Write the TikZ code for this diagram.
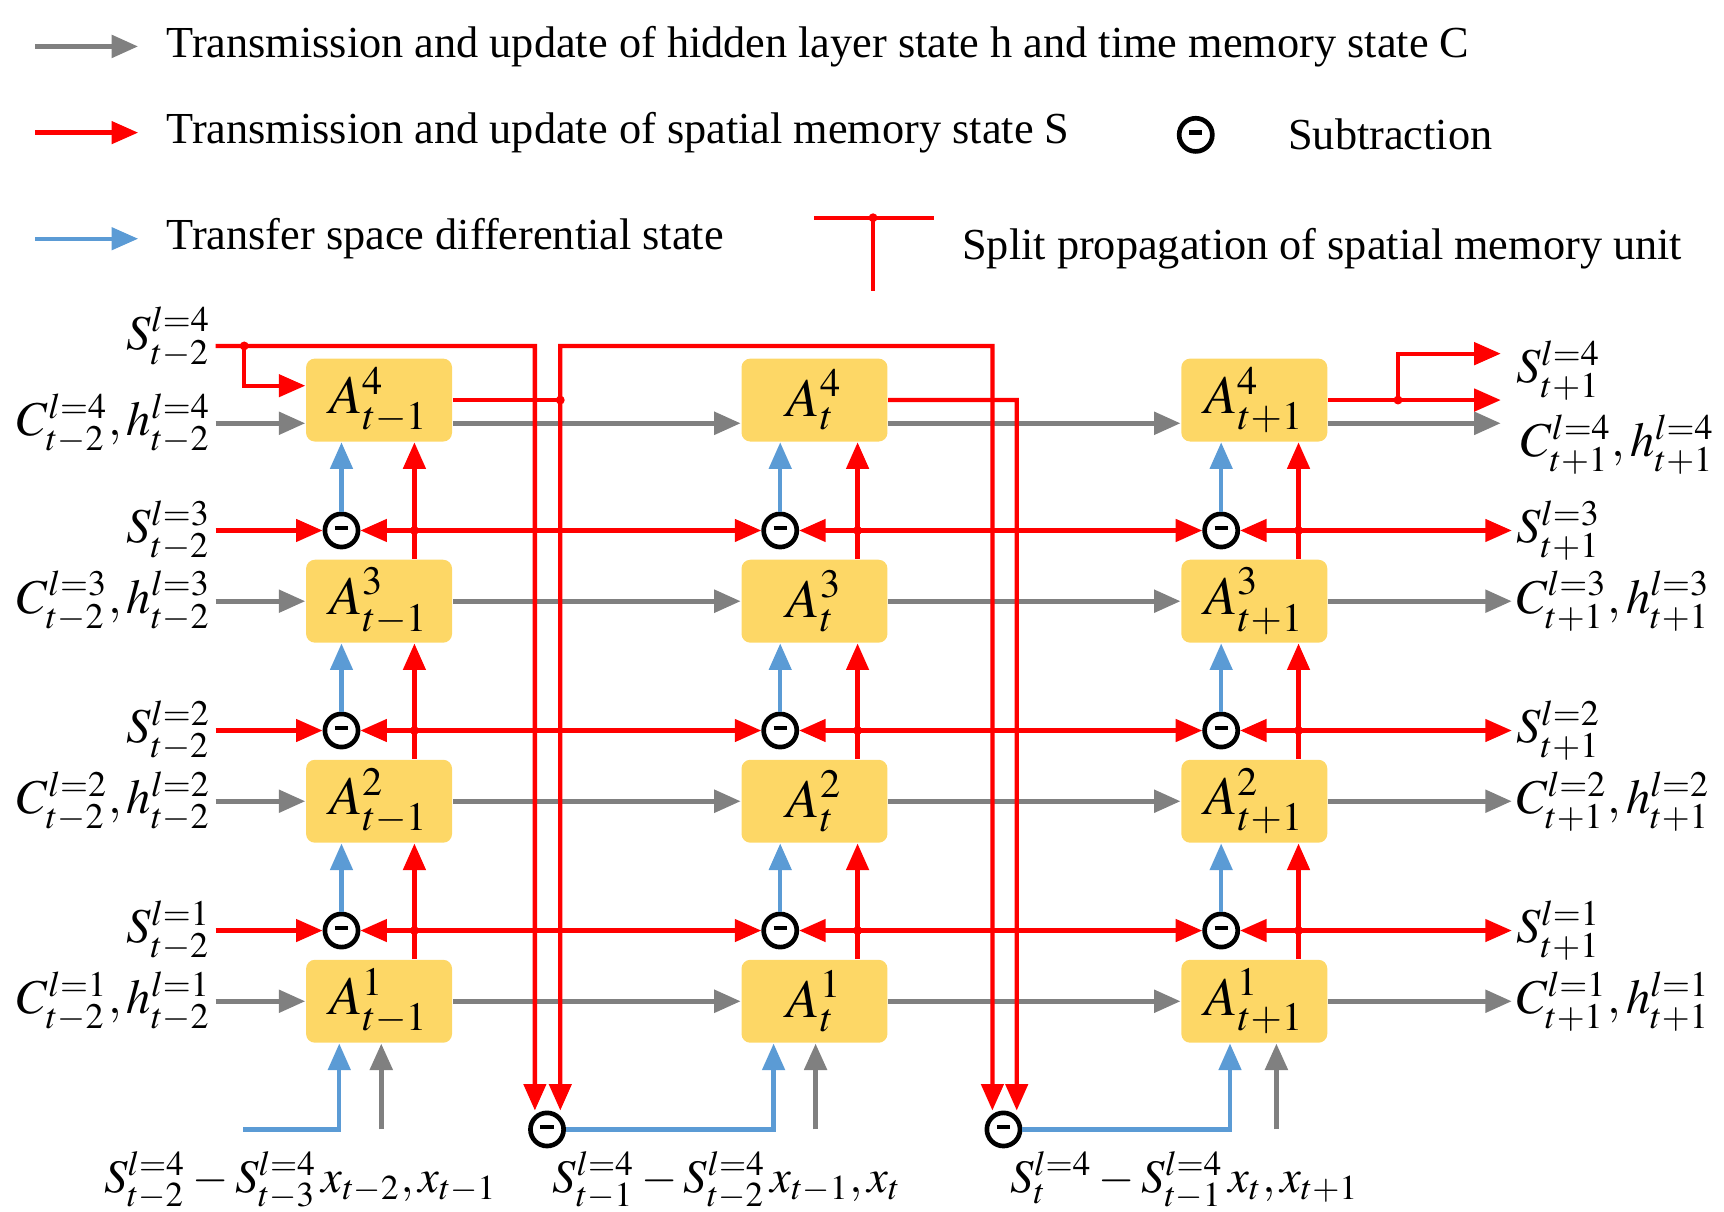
\documentclass[tikz,border=0pt]{standalone}
\usepackage{mathptmx}
\usepackage{fontspec}
\setmainfont{Liberation Serif}
\usepackage{tikz}
\usetikzlibrary{arrows.meta,positioning,calc}
\definecolor{cellfill}{RGB}{253,215,102}
\definecolor{redline}{RGB}{255,0,0}
\definecolor{grayline}{RGB}{128,128,128}
\definecolor{blueline}{RGB}{91,155,213}
\tikzset{
	cell/.style = {fill=cellfill, rounded corners=0.08cm, minimum width=1.32cm, minimum height=0.75cm, inner sep=0pt, font=\fontsize{14}{16}\selectfont},
	minus/.style = {circle, draw=black, line width=1.2pt, fill=white, minimum size=0.3cm, inner sep=0pt},
	lab/.style = {inner sep=1pt, font=\fontsize{12.5}{15}\selectfont},
	legend/.style = {anchor=west, inner sep=0pt, font=\fontsize{11.4}{14}\selectfont},
	tip/.style = {-{Triangle[length=0.24cm,width=0.2cm]}},
	gray arr/.style = {draw=grayline, line width=1.3pt, tip, grayline},
	red arr/.style = {draw=redline, line width=1.1pt, tip, redline},
	blue arr/.style = {draw=blueline, line width=1.1pt, tip, blueline},
	red line/.style = {draw=redline, line width=1.1pt},
	dot/.style = {circle, fill=redline, minimum size=0.08cm, inner sep=0pt}
}
\newcommand{\minusbar}{\rule[0.045cm]{0.12cm}{0.04cm}}
\begin{document}
\begin{tikzpicture}[x=0.01cm, y=-0.01cm]
		\useasboundingbox (0,0) rectangle (1560,1096);
		
		% Legend
		\draw[gray arr] (32,42) -- (125,42);
		\node[legend] at (150,42) {Transmission and update of hidden layer state h and time memory state C};
		\draw[red arr] (32,120) -- (125,120);
		\node[legend] at (150,120) {Transmission and update of spatial memory state S};
		\node[minus] (lm) at (1082,122) {\minusbar};
		\node[legend] at (1165,122) {Subtraction};
		\draw[blue arr] (32,216) -- (125,216);
		\node[legend] at (150,216) {Transfer space differential state};
		\draw[red line] (737,197) -- (845,197);
		\draw[red line] (790,197) -- (790,263);
		\node[dot] at (790,197) {};
		\node[legend] at (870,225) {Split propagation of spatial memory unit};
		
		% Cells
		\foreach \c/\x/\t in {1/343/{t-1},2/737/t,3/1135/{t+1}}
		\foreach \l/\y in {1/906,2/725,3/544,4/362}
		\node[cell] (A\c\l) at (\x,\y) {$A^{\l}_{\t}$};
		
		% Subtraction units between layers
		\foreach \c/\x in {1/309,2/706,3/1105}
		\foreach \l/\y in {1/842,2/661,3/480}
		\node[minus] (m\c\l) at (\x,\y) {\minusbar};
		\foreach \c/\x in {1/375,2/776,3/1175}
		\coordinate (r\c) at (\x,0);
		
		% Side labels
		\foreach \l/\y/\z in {1/842/906,2/661/725,3/480/544} {
			\node[lab, anchor=east] (sl\l) at (195,\y) {$S^{l=\l}_{t-2}$};
			\node[lab, anchor=east] (cl\l) at (195,\z) {$C^{l=\l}_{t-2},h^{l=\l}_{t-2}$};
			\node[lab, anchor=west] (sr\l) at (1368,\y) {$S^{l=\l}_{t+1}$};
			\node[lab, anchor=west] (cr\l) at (1368,\z) {$C^{l=\l}_{t+1},h^{l=\l}_{t+1}$};
		}
		\node[lab, anchor=east] (sl4) at (195,305) {$S^{l=4}_{t-2}$};
		\node[lab, anchor=east] (cl4) at (195,383) {$C^{l=4}_{t-2},h^{l=4}_{t-2}$};
		\node[lab, anchor=west] (sr4) at (1368,335) {$S^{l=4}_{t+1}$};
		\node[lab, anchor=west] (cr4) at (1372,402) {$C^{l=4}_{t+1},h^{l=4}_{t+1}$};
		
		% Hidden and time memory states
		\foreach \l in {1,2,3} {
			\draw[gray arr] (cl\l.east) -- (A1\l.west);
			\draw[gray arr] (A1\l.east) -- (A2\l.west);
			\draw[gray arr] (A2\l.east) -- (A3\l.west);
			\draw[gray arr] (A3\l.east) -- (cr\l.west |- A3\l.east);
		}
		\draw[gray arr] (cl4.east) -- (A14.west |- cl4.east);
		\draw[gray arr] (A14.east |- cl4.east) -- (A24.west |- cl4.east);
		\draw[gray arr] (A24.east |- cl4.east) -- (A34.west |- cl4.east);
		\draw[gray arr] (A34.east |- cl4.east) -- (1358,383);
		
		% Spatial memory and differential states
		\foreach \c/\d in {1/2,2/3}
		\foreach \l/\n in {1/2,2/3,3/4} {
			\draw[blue arr] (m\c\l) -- (m\c\l |- A\c\n.south);
			\draw[red arr] (r\c |- A\c\l.north) -- (r\c |- A\c\n.south);
			\draw[red arr] (r\c |- m\c\l) -- (m\c\l.east);
			\draw[red arr] (r\c |- m\c\l) -- (m\d\l.west);
			\node[dot] at (r\c |- m\c\l) {};
		}
		\foreach \l/\n in {1/2,2/3,3/4} {
			\draw[blue arr] (m3\l) -- (m3\l |- A3\n.south);
			\draw[red arr] (r3 |- A3\l.north) -- (r3 |- A3\n.south);
			\draw[red arr] (r3 |- m3\l) -- (m3\l.east);
			\draw[red arr] (r3 |- m3\l) -- (sr\l.west |- m3\l);
			\node[dot] at (r3 |- m3\l) {};
			\draw[red arr] (sl\l.east |- m1\l) -- (m1\l.west);
		}
		
		% Top layer split propagation
		\node[minus] (d1) at (495,1022) {\minusbar};
		\node[minus] (d2) at (908,1022) {\minusbar};
		\coordinate (p1) at (221,313);
		\draw[red arr] (sl4.east |- p1) -- (484,313) -- ([xshift=-0.11cm]d1.north);
		\draw[red arr] (p1) |- ([yshift=0.13cm]A14.west);
		\node[dot] at (p1) {};
		\coordinate (q1) at (507,362);
		\draw[red line] (A14.east) -- (q1);
		\draw[red arr] (q1) -- ([xshift=0.12cm]d1.north);
		\draw[red arr] (q1) -- (507,313) -- (898,313) -- ([xshift=-0.1cm]d2.north);
		\node[dot] at (q1) {};
		\draw[red arr] (A24.east) -- (920,362) -- ([xshift=0.12cm]d2.north);
		\coordinate (q3) at (1265,362);
		\draw[red line] (A34.east) -- (q3);
		\draw[red arr] (q3) |- (1358,320);
		\draw[red arr] (q3) -- (1358,362);
		\node[dot] at (q3) {};
		
		% Inputs
		\foreach \c/\x in {1/307,2/700,3/1113}
		\coordinate (b\c) at (\x,1022);
		\draw[blue arr] (220,1022) -- (b1) -- (b1 |- A11.south);
		\draw[blue arr] (d1.east) -- (b2) -- (b2 |- A21.south);
		\draw[blue arr] (d2.east) -- (b3) -- (b3 |- A31.south);
		\foreach \c/\x in {1/345,2/738,3/1155} {
			\coordinate (g\c) at (\x,1022);
			\draw[gray arr] (g\c) -- (g\c |- A\c1.south);
		}
		\node[lab, font=\fontsize{12}{14}\selectfont] (in1) at (272,1068) {$S^{l=4}_{t-2}-S^{l=4}_{t-3}\,x_{t-2},x_{t-1}$};
		\node[lab, font=\fontsize{12}{14}\selectfont] (in2) at (658,1068) {$S^{l=4}_{t-1}-S^{l=4}_{t-2}\,x_{t-1},x_{t}$};
		\node[lab, font=\fontsize{12}{14}\selectfont] (in3) at (1072,1068) {$S^{l=4}_{t}-S^{l=4}_{t-1}\,x_{t},x_{t+1}$};
		
\end{tikzpicture}
\end{document}
